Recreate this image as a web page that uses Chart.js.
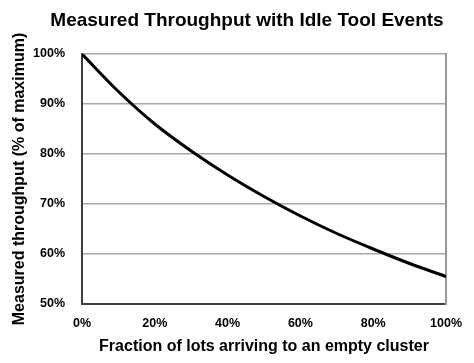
<!DOCTYPE html>
<html>
<head>
<meta charset="utf-8">
<script src="https://cdn.jsdelivr.net/npm/chart.js@4"></script>
<style>
html,body{margin:0;padding:0;background:#fff;}
#wrap{width:474px;height:363px;}
</style>
</head>
<body>
<div id="wrap"><canvas id="c" width="474" height="363"></canvas></div>
<script>
const fractionPct = [0, 10, 20, 30, 40, 50, 60, 70, 80, 90, 100];
const throughputPct = [100, 92.5, 86, 80.6, 75.8, 71.5, 67.6, 64.1, 61, 58.1, 55.5];
const xTicks = [0, 20, 40, 60, 80, 100];
const yTicks = [50, 60, 70, 80, 90, 100];

const points = fractionPct.map((x, i) => ({x: x, y: throughputPct[i]}));
const FONT = "'Liberation Sans', Arial, sans-serif";

new Chart(document.getElementById('c'), {
  type: 'line',
  data: {
    datasets: [{
      data: points,
      borderColor: '#000',
      borderWidth: 3,
      pointRadius: 0,
      tension: 0.4,
      cubicInterpolationMode: 'monotone',
      fill: false
    }]
  },
  options: {
    responsive: false,
    animation: false,
    devicePixelRatio: 1,
    layout: {padding: {left: 20, right: 0, top: 0, bottom: 0}},
    plugins: {
      legend: {display: false},
      tooltip: {enabled: false},
      title: {
        display: true,
        text: 'Measured Throughput with Idle Tool Events',
        color: '#000',
        font: {family: FONT, size: 19, weight: 'bold', lineHeight: 1.2},
        padding: {top: 9.6, bottom: 21.6}
      }
    },
    scales: {
      x: {
        type: 'linear',
        min: 0, max: 100,
        afterBuildTicks: s => { s.ticks = xTicks.map(v => ({value: v})); },
        afterFit: s => { s.height = 59; },
        grid: {display: false, drawTicks: false},
        border: {display: true, color: '#404040', width: 2},
        ticks: {
          color: '#000',
          padding: 12,
          font: {family: FONT, size: 12.5, weight: 'bold'},
          callback: v => v + '%',
          maxRotation: 0
        },
        title: {
          display: true,
          text: 'Fraction of lots arriving to an empty cluster',
          color: '#000',
          font: {family: FONT, size: 16, weight: 'bold', lineHeight: 1.2},
          padding: {top: 0, bottom: 6.7}
        }
      },
      y: {
        type: 'linear',
        min: 50, max: 100,
        afterBuildTicks: s => { s.ticks = yTicks.map(v => ({value: v})); },
        afterFit: s => { s.width = 62; },
        grid: {color: '#a8a8a8', lineWidth: 1.5, drawTicks: false},
        border: {display: true, color: '#404040', width: 2},
        ticks: {
          color: '#000',
          padding: 17,
          font: {family: FONT, size: 12.5, weight: 'bold'},
          callback: v => v + '%'
        },
        title: {
          display: true,
          text: 'Measured throughput (% of maximum)',
          color: '#000',
          font: {family: FONT, size: 16, weight: 'bold', lineHeight: 1.2},
          padding: {top: -9.6, bottom: 0}
        }
      },
      y2: {
        type: 'linear',
        position: 'right',
        min: 50, max: 100,
        afterFit: s => { s.width = 27; },
        grid: {display: false, drawTicks: false},
        border: {display: true, color: '#989898', width: 2},
        ticks: {display: false}
      }
    }
  }
});
</script>
</body>
</html>
